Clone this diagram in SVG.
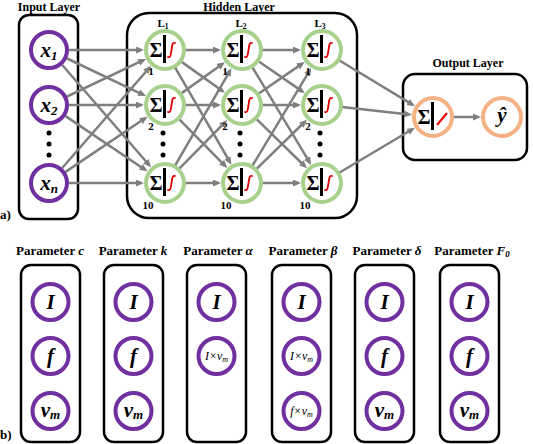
<svg xmlns="http://www.w3.org/2000/svg" width="533" height="444" viewBox="0 0 533 444">
<style>
text{font-family:"Liberation Serif","Times New Roman",serif;font-weight:bold;fill:#000}
.box{fill:none;stroke:#000;stroke-width:2.5}
.in{fill:#fff;stroke:#7030a0;stroke-width:4}
.hn{fill:#fff;stroke:#a9d18e;stroke-width:4}
.on{fill:#fff;stroke:#f4b183;stroke-width:4}
.title{font-size:12px;text-anchor:middle}
.ptitle{font-size:13px;text-anchor:middle}
.it{font-style:italic}
.var{font-size:21px;font-style:italic;text-anchor:middle}
.sub{font-size:13px}
.sig{font-size:20px;text-anchor:middle}
.num{font-size:11px;text-anchor:middle}
.lab{font-size:11px;text-anchor:middle}
.bar{fill:#000}
.sg{fill:none;stroke:#e00000;stroke-width:1.8;stroke-linecap:round}
.dot{fill:#000}
.conn line{stroke:#7f7f7f;stroke-width:2.5;marker-end:url(#ah)}
.small{font-size:12px;font-style:italic;font-weight:normal;text-anchor:middle}
</style>
<defs>
<marker id="ah" markerUnits="userSpaceOnUse" markerWidth="9" markerHeight="8" refX="5" refY="3.5" orient="auto"><path d="M0,0 L8,3.5 L0,7 z" fill="#7f7f7f"/></marker>
</defs>

<!-- panel labels -->
<text x="0" y="219" font-size="13">a)</text>
<text x="0" y="439" font-size="13">b)</text>

<!-- layer boxes -->
<g id="inputLayer">
<rect class="box" x="19" y="15" width="59" height="204" rx="10"/>
<text class="title" x="49" y="11">Input Layer</text>
<circle class="dot" cx="49" cy="133" r="2.5"/><circle class="dot" cx="49" cy="144" r="2.5"/><circle class="dot" cx="49" cy="155" r="2.5"/>
</g>
<g id="hiddenLayer">
<rect class="box" x="127" y="13" width="230" height="205" rx="22"/>
<text class="title" x="239" y="10.5">Hidden Layer</text>
<text class="lab" x="163" y="27">L<tspan font-size="7.5" dy="2">1</tspan></text>
<text class="lab" x="241" y="27">L<tspan font-size="7.5" dy="2">2</tspan></text>
<text class="lab" x="320" y="27">L<tspan font-size="7.5" dy="2">3</tspan></text>
<circle class="dot" cx="163" cy="133" r="2.5"/><circle class="dot" cx="163" cy="144" r="2.5"/><circle class="dot" cx="163" cy="155" r="2.5"/>
<circle class="dot" cx="240" cy="133" r="2.5"/><circle class="dot" cx="240" cy="144" r="2.5"/><circle class="dot" cx="240" cy="155" r="2.5"/>
<circle class="dot" cx="320" cy="133" r="2.5"/><circle class="dot" cx="320" cy="144" r="2.5"/><circle class="dot" cx="320" cy="155" r="2.5"/>
</g>
<g id="outputLayer">
<rect class="box" x="403" y="74" width="124" height="86" rx="12"/>
<text class="title" x="468" y="67">Output Layer</text>
</g>

<!-- connectors -->
<g id="connectors" class="conn">
<line x1="69" y1="50" x2="141" y2="50"/>
<line x1="67.1" y1="58.5" x2="143.28" y2="94.79"/>
<line x1="62.2" y1="65" x2="149.15" y2="164.98"/>
<line x1="67.1" y1="96.5" x2="143.28" y2="60.21"/>
<line x1="69" y1="105" x2="141" y2="105"/>
<line x1="65.6" y1="116.1" x2="145.03" y2="169.69"/>
<line x1="62.2" y1="168" x2="149.15" y2="68.02"/>
<line x1="65.6" y1="171.9" x2="145.03" y2="118.31"/>
<line x1="69" y1="183" x2="141" y2="183"/>

<line x1="185" y1="50" x2="218" y2="50"/>
<line x1="181.27" y1="61.62" x2="222.47" y2="91.05"/>
<line x1="175.02" y1="67.31" x2="229.98" y2="162.23"/>
<line x1="181.27" y1="93.38" x2="222.47" y2="63.95"/>
<line x1="185" y1="105" x2="218" y2="105"/>
<line x1="179.05" y1="119.23" x2="225.14" y2="165.92"/>
<line x1="175.02" y1="165.69" x2="229.98" y2="70.77"/>
<line x1="179.05" y1="168.77" x2="225.14" y2="122.08"/>
<line x1="185" y1="183" x2="218" y2="183"/>

<line x1="262" y1="50" x2="298" y2="50"/>
<line x1="258.48" y1="61.33" x2="302.22" y2="91.4"/>
<line x1="252.31" y1="67.14" x2="309.63" y2="162.43"/>
<line x1="258.48" y1="93.67" x2="302.22" y2="63.6"/>
<line x1="262" y1="105" x2="298" y2="105"/>
<line x1="256.32" y1="118.96" x2="304.82" y2="166.25"/>
<line x1="252.31" y1="165.86" x2="309.63" y2="70.57"/>
<line x1="256.32" y1="169.04" x2="304.82" y2="121.75"/>
<line x1="262" y1="183" x2="298" y2="183"/>

<line x1="339.1" y1="60.3" x2="412.45" y2="104.6"/>
<line x1="341.9" y1="107.1" x2="409.14" y2="114.42"/>
<line x1="339.2" y1="172.8" x2="412.37" y2="129.27"/>

<line x1="453" y1="117" x2="478" y2="117"/>
</g>

<!-- input nodes -->
<g id="x1" transform="translate(49,50)"><circle class="in" r="18"/><text class="var" x="0" y="7">x<tspan class="sub" dy="3">1</tspan></text></g>
<g id="x2" transform="translate(49,105)"><circle class="in" r="18"/><text class="var" x="0" y="7">x<tspan class="sub" dy="3">2</tspan></text></g>
<g id="xn" transform="translate(49,183)"><circle class="in" r="18"/><text class="var" x="0" y="7">x<tspan class="sub" dy="3">n</tspan></text></g>

<!-- hidden nodes -->
<g id="h1_1" transform="translate(165,50)"><circle class="hn" r="19"/><text class="sig" x="-9" y="7">Σ</text><rect class="bar" x="-2" y="-15" width="3" height="28"/><path class="sg" d="M3,7 Q5.5,8 6,3 L7,-3 Q7.5,-8 10,-7"/><text class="num" x="-14" y="25">1</text></g>
<g id="h1_2" transform="translate(165,105)"><circle class="hn" r="19"/><text class="sig" x="-9" y="7">Σ</text><rect class="bar" x="-2" y="-15" width="3" height="28"/><path class="sg" d="M3,7 Q5.5,8 6,3 L7,-3 Q7.5,-8 10,-7"/><text class="num" x="-14" y="25">2</text></g>
<g id="h1_10" transform="translate(165,183)"><circle class="hn" r="19"/><text class="sig" x="-9" y="7">Σ</text><rect class="bar" x="-2" y="-15" width="3" height="28"/><path class="sg" d="M3,7 Q5.5,8 6,3 L7,-3 Q7.5,-8 10,-7"/><text class="num" x="-17" y="26">10</text></g>

<g id="h2_1" transform="translate(242,50)"><circle class="hn" r="19"/><text class="sig" x="-9" y="7">Σ</text><rect class="bar" x="-2" y="-15" width="3" height="28"/><path class="sg" d="M3,7 Q5.5,8 6,3 L7,-3 Q7.5,-8 10,-7"/><text class="num" x="-17" y="25">1</text></g>
<g id="h2_2" transform="translate(242,105)"><circle class="hn" r="19"/><text class="sig" x="-9" y="7">Σ</text><rect class="bar" x="-2" y="-15" width="3" height="28"/><path class="sg" d="M3,7 Q5.5,8 6,3 L7,-3 Q7.5,-8 10,-7"/><text class="num" x="-17" y="25">2</text></g>
<g id="h2_10" transform="translate(242,183)"><circle class="hn" r="19"/><text class="sig" x="-9" y="7">Σ</text><rect class="bar" x="-2" y="-15" width="3" height="28"/><path class="sg" d="M3,7 Q5.5,8 6,3 L7,-3 Q7.5,-8 10,-7"/><text class="num" x="-16" y="26">10</text></g>

<g id="h3_1" transform="translate(322,50)"><circle class="hn" r="19"/><text class="sig" x="-9" y="7">Σ</text><rect class="bar" x="-2" y="-15" width="3" height="28"/><path class="sg" d="M3,7 Q5.5,8 6,3 L7,-3 Q7.5,-8 10,-7"/><text class="num" x="-14" y="25">1</text></g>
<g id="h3_2" transform="translate(322,105)"><circle class="hn" r="19"/><text class="sig" x="-9" y="7">Σ</text><rect class="bar" x="-2" y="-15" width="3" height="28"/><path class="sg" d="M3,7 Q5.5,8 6,3 L7,-3 Q7.5,-8 10,-7"/><text class="num" x="-14" y="25">2</text></g>
<g id="h3_10" transform="translate(322,183)"><circle class="hn" r="19"/><text class="sig" x="-9" y="7">Σ</text><rect class="bar" x="-2" y="-15" width="3" height="28"/><path class="sg" d="M3,7 Q5.5,8 6,3 L7,-3 Q7.5,-8 10,-7"/><text class="num" x="-17" y="26">10</text></g>

<!-- output nodes -->
<g id="out" transform="translate(433,117)"><circle class="on" r="19"/><text class="sig" x="-9" y="7">Σ</text><rect class="bar" x="-2" y="-15" width="3" height="28"/><line x1="4" y1="8" x2="14" y2="-4" stroke="#e00000" stroke-width="2"/></g>
<g id="yhat" transform="translate(502,117)"><circle class="on" r="19"/><text class="var" x="0" y="5">ŷ</text></g>

<!-- part b -->
<g id="paramC">
<text class="ptitle" x="50" y="255">Parameter <tspan class="it">c</tspan></text>
<rect class="box" x="21" y="265" width="59" height="177" rx="10"/>
<circle class="in" cx="50.5" cy="302" r="18"/><text class="var" x="50.5" y="309">I</text>
<circle class="in" cx="50.5" cy="356" r="18"/><text class="var" x="50.5" y="363">f</text>
<circle class="in" cx="50.5" cy="411" r="18"/><text class="var" x="50.5" y="417">v<tspan class="sub" dy="2">m</tspan></text>
</g>
<g id="paramK">
<text class="ptitle" x="133" y="255">Parameter <tspan class="it">k</tspan></text>
<rect class="box" x="104" y="265" width="59" height="177" rx="10"/>
<circle class="in" cx="133.5" cy="302" r="18"/><text class="var" x="133.5" y="309">I</text>
<circle class="in" cx="133.5" cy="356" r="18"/><text class="var" x="133.5" y="363">f</text>
<circle class="in" cx="133.5" cy="411" r="18"/><text class="var" x="133.5" y="417">v<tspan class="sub" dy="2">m</tspan></text>
</g>
<g id="paramAlpha">
<text class="ptitle" x="218" y="255">Parameter <tspan class="it">α</tspan></text>
<rect class="box" x="187" y="265" width="59" height="177" rx="10"/>
<circle class="in" cx="216.5" cy="302" r="18"/><text class="var" x="216.5" y="309">I</text>
<circle class="in" cx="216.5" cy="356" r="18"/><text class="small" x="216.5" y="360">I×v<tspan font-size="8" dy="2">m</tspan></text>
</g>
<g id="paramBeta">
<text class="ptitle" x="303" y="255">Parameter <tspan class="it">β</tspan></text>
<rect class="box" x="272" y="265" width="59" height="177" rx="10"/>
<circle class="in" cx="301.5" cy="302" r="18"/><text class="var" x="301.5" y="309">I</text>
<circle class="in" cx="301.5" cy="356" r="18"/><text class="small" x="301.5" y="360">I×v<tspan font-size="8" dy="2">m</tspan></text>
<circle class="in" cx="301.5" cy="411" r="18"/><text class="small" x="301.5" y="415">f×v<tspan font-size="8" dy="2">m</tspan></text>
</g>
<g id="paramDelta">
<text class="ptitle" x="387" y="255">Parameter <tspan class="it">δ</tspan></text>
<rect class="box" x="355" y="265" width="59" height="177" rx="10"/>
<circle class="in" cx="384.5" cy="302" r="18"/><text class="var" x="384.5" y="309">I</text>
<circle class="in" cx="384.5" cy="356" r="18"/><text class="var" x="384.5" y="363">f</text>
<circle class="in" cx="384.5" cy="411" r="18"/><text class="var" x="384.5" y="417">v<tspan class="sub" dy="2">m</tspan></text>
</g>
<g id="paramF0">
<text class="ptitle" x="472" y="255">Parameter <tspan class="it">F<tspan font-size="9" dy="2">0</tspan></tspan></text>
<rect class="box" x="440" y="265" width="59" height="177" rx="10"/>
<circle class="in" cx="469.5" cy="302" r="18"/><text class="var" x="469.5" y="309">I</text>
<circle class="in" cx="469.5" cy="356" r="18"/><text class="var" x="469.5" y="363">f</text>
<circle class="in" cx="469.5" cy="411" r="18"/><text class="var" x="469.5" y="417">v<tspan class="sub" dy="2">m</tspan></text>
</g>
</svg>
